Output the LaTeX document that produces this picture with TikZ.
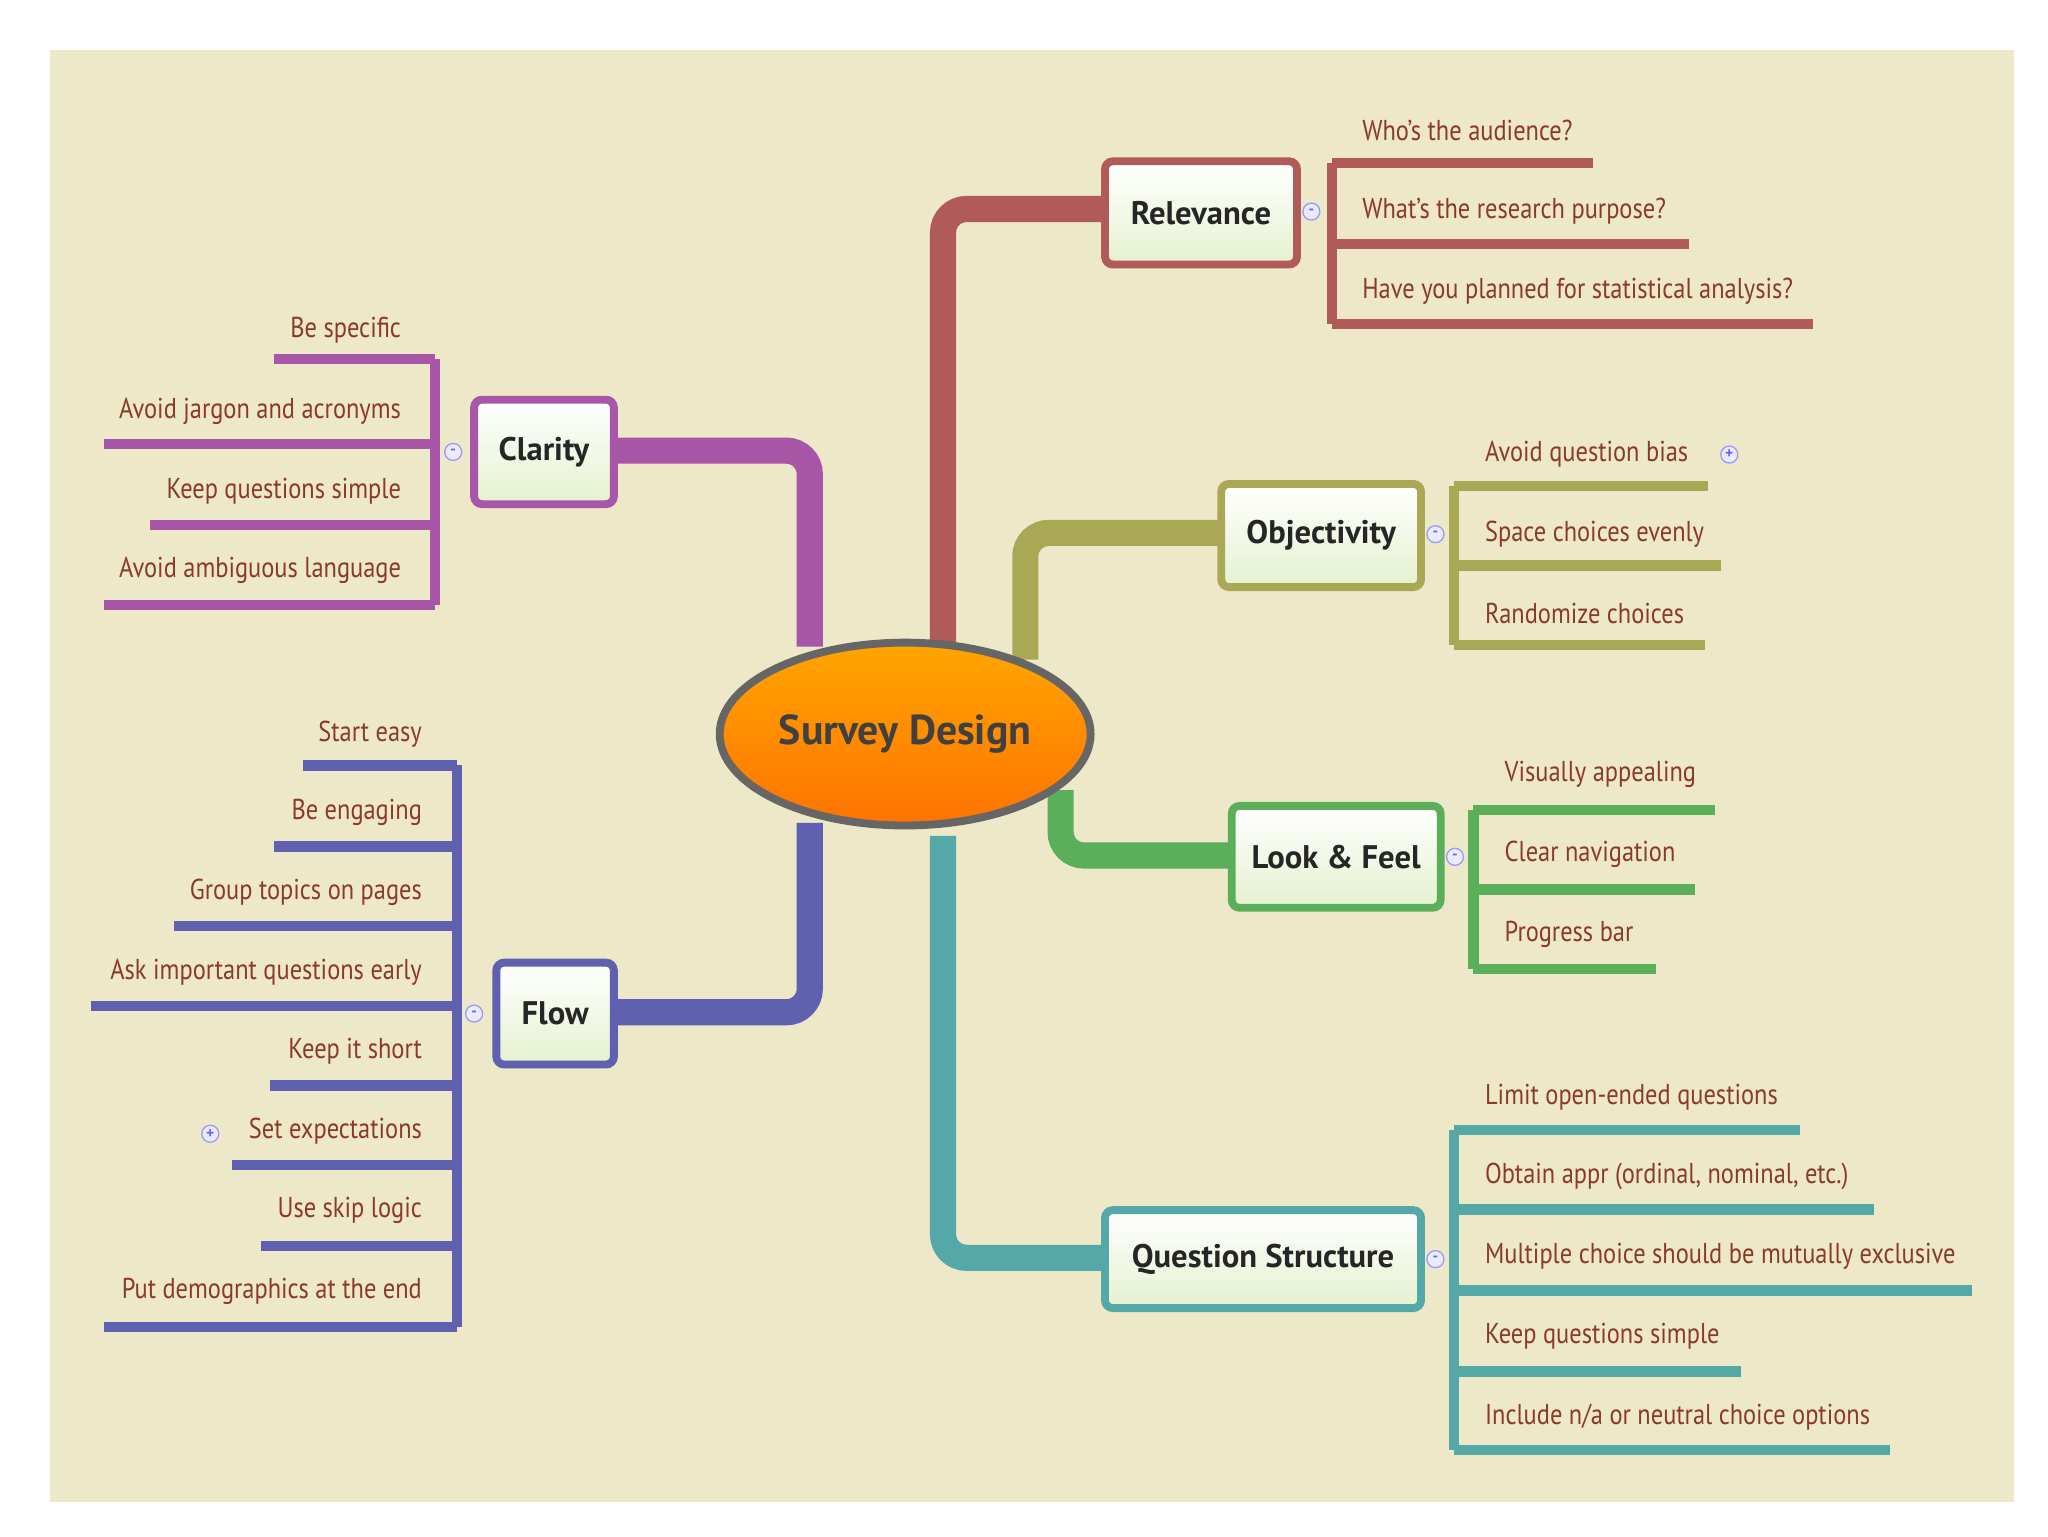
\documentclass[tikz,border=0pt]{standalone}
\usepackage{fontspec}
\setmainfont{PT Sans}
\usetikzlibrary{shapes.geometric}
\definecolor{bg}{HTML}{ECE8C8}
\definecolor{crel}{HTML}{B05A5A}
\definecolor{ccla}{HTML}{A857A8}
\definecolor{cobj}{HTML}{A8A855}
\definecolor{clf}{HTML}{5BAF5B}
\definecolor{cflow}{HTML}{6060B0}
\definecolor{cqs}{HTML}{55A8A8}
\definecolor{ctext}{HTML}{8B3A2A}
\tikzset{
  box/.style={draw=#1, line width=6pt, rounded corners=6pt, top color=white, bottom color=white!85!green!40!bg, font=\bfseries\fontsize{25}{28}\selectfont, text=black!85, inner sep=0pt, anchor=west},
  main/.style={draw=#1, line width=20pt, rounded corners=18pt},
  sub/.style={draw=#1, line width=8pt},
  lt/.style={font=\fontsize{22}{24}\selectfont, text=ctext, xscale=0.85, anchor=west},
  rt/.style={font=\fontsize{22}{24}\selectfont, text=ctext, xscale=0.85, anchor=east},
  knob/.style={circle, draw=blue!40, fill=blue!8, line width=1pt, inner sep=0pt, minimum size=13pt, font=\fontsize{12}{12}\selectfont\bfseries, text=blue!60},
}
\begin{document}
\begin{tikzpicture}[x=1pt,y=-1pt]
\useasboundingbox (0,0) rectangle (1568,1176);
\fill[bg] (38,38) rectangle (1542,1150);

% main connectors
\draw[main=crel] (722,495) -- (722,160) -- (850,160);
\draw[main=ccla] (620,495) -- (620,345) -- (460,345);
\draw[main=cobj] (785,505) -- (785,408) -- (940,408);
\draw[main=clf] (812,605) -- (812,655) -- (945,655);
\draw[main=cflow] (620,630) -- (620,775) -- (460,775);
\draw[main=cqs] (722,640) -- (722,963) -- (850,963);

% center
\node[ellipse, draw=gray!80!black, line width=6pt, minimum width=284pt, minimum height=140pt,
  top color=orange!70!yellow, bottom color=orange!90!red, font=\bfseries\fontsize{32}{36}\selectfont, text=black!75] (c) at (693,562) {Survey Design};

% boxes
\node[box=crel, minimum width=147pt, minimum height=79pt] (rel) at (843,163) {Relevance};
\node[box=ccla, minimum width=107pt, minimum height=80pt] (cla) at (360,346) {Clarity};
\node[box=cobj, minimum width=153pt, minimum height=79pt] (obj) at (932,410) {Objectivity};
\node[box=clf, minimum width=160pt, minimum height=78pt] (lf) at (940,656) {Look \& Feel};
\node[box=cflow, minimum width=90pt, minimum height=78pt] (flow) at (377,776) {Flow};
\node[box=cqs, minimum width=242pt, minimum height=75pt] (qs) at (843,964) {Question Structure};

% Relevance sub
\draw[sub=crel] (1020,125) -- (1020,248);
\draw[sub=crel] (1020,125) -- (1220,125);
\draw[sub=crel] (1020,187) -- (1293,187);
\draw[sub=crel] (1020,248) -- (1388,248);
\node[lt] (r1) at (1040,100) {Who's the audience?};
\node[lt] (r2) at (1040,162) {What's the research purpose?};
\node[lt] (r3) at (1040,223) {Have you planned for statistical analysis?};
\node[knob] (k1) at (1004,162) {-};

% Clarity sub
\draw[sub=ccla] (333,275) -- (333,463);
\draw[sub=ccla] (210,275) -- (333,275);
\draw[sub=ccla] (80,340) -- (333,340);
\draw[sub=ccla] (115,402) -- (333,402);
\draw[sub=ccla] (80,463) -- (333,463);
\node[rt] (c1) at (310,253) {Be specific};
\node[rt] (c2) at (310,315) {Avoid jargon and acronyms};
\node[rt] (c3) at (310,376) {Keep questions simple};
\node[rt] (c4) at (310,437) {Avoid ambiguous language};
\node[knob] (k2) at (347,346) {-};

% Objectivity sub
\draw[sub=cobj] (1113,372) -- (1113,494);
\draw[sub=cobj] (1113,372) -- (1308,372);
\draw[sub=cobj] (1113,433) -- (1318,433);
\draw[sub=cobj] (1113,494) -- (1305,494);
\node[lt] (o1) at (1134,348) {Avoid question bias};
\node[lt] (o2) at (1134,409) {Space choices evenly};
\node[lt] (o3) at (1134,470) {Randomize choices};
\node[knob] (k3) at (1099,409) {-};
\node[knob] (p1) at (1324,348) {+};

% Look & Feel sub
\draw[sub=clf] (1128,620) -- (1128,742);
\draw[sub=clf] (1128,620) -- (1313,620);
\draw[sub=clf] (1128,681) -- (1298,681);
\draw[sub=clf] (1128,742) -- (1268,742);
\node[lt] (l1) at (1149,593) {Visually appealing};
\node[lt] (l2) at (1149,654) {Clear navigation};
\node[lt] (l3) at (1149,715) {Progress bar};
\node[knob] (k4) at (1114,656) {-};

% Flow sub
\draw[sub=cflow] (350,586) -- (350,1016);
\draw[sub=cflow] (232,586) -- (350,586);
\draw[sub=cflow] (210,648) -- (350,648);
\draw[sub=cflow] (133,709) -- (350,709);
\draw[sub=cflow] (70,770) -- (350,770);
\draw[sub=cflow] (207,831) -- (350,831);
\draw[sub=cflow] (178,892) -- (350,892);
\draw[sub=cflow] (200,954) -- (350,954);
\draw[sub=cflow] (80,1016) -- (350,1016);
\node[rt] (f1) at (326,562) {Start easy};
\node[rt] (f2) at (326,622) {Be engaging};
\node[rt] (f3) at (326,683) {Group topics on pages};
\node[rt] (f4) at (326,744) {Ask important questions early};
\node[rt] (f5) at (326,805) {Keep it short};
\node[rt] (f6) at (326,866) {Set expectations};
\node[rt] (f7) at (326,927) {Use skip logic};
\node[rt] (f8) at (326,989) {Put demographics at the end};
\node[knob] (k5) at (363,776) {-};
\node[knob] (p2) at (161,868) {+};

% Question Structure sub
\draw[sub=cqs] (1113,865) -- (1113,1110);
\draw[sub=cqs] (1113,865) -- (1378,865);
\draw[sub=cqs] (1113,926) -- (1435,926);
\draw[sub=cqs] (1113,988) -- (1510,988);
\draw[sub=cqs] (1113,1050) -- (1333,1050);
\draw[sub=cqs] (1113,1110) -- (1447,1110);
\node[lt] (q1) at (1134,840) {Limit open-ended questions};
\node[lt] (q2) at (1134,901) {Obtain appr (ordinal, nominal, etc.)};
\node[lt] (q3) at (1134,962) {Multiple choice should be mutually exclusive};
\node[lt] (q4) at (1134,1023) {Keep questions simple};
\node[lt] (q5) at (1134,1085) {Include n/a or neutral choice options};
\node[knob] (k6) at (1099,964) {-};
\end{tikzpicture}
\end{document}
